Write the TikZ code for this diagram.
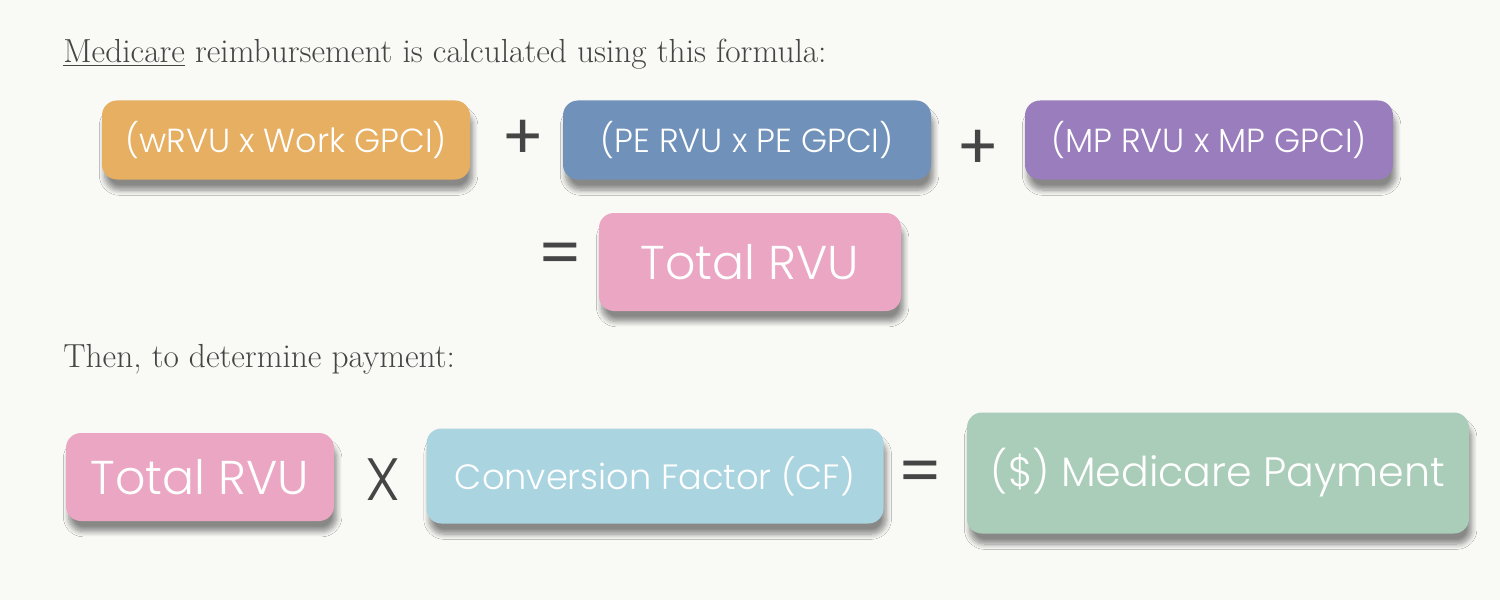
\documentclass[tikz,border=0pt]{standalone}
\usepackage{fontspec}
\usepackage{tikz}
\usetikzlibrary{shadows.blur}
\newfontfamily\boxfont{Poppins}[UprightFont={* Light}]
\newfontfamily\signfont{Poppins}

\definecolor{paper}{HTML}{F9F9F6}
\definecolor{ink}{HTML}{454545}
\definecolor{workcol}{HTML}{E6AF62}
\definecolor{pecol}{HTML}{6F91BA}
\definecolor{mpcol}{HTML}{9A7DBC}
\definecolor{rvucol}{HTML}{EAA6C2}
\definecolor{cfcol}{HTML}{AAD4E0}
\definecolor{paycol}{HTML}{AACDB9}

\tikzset{
  termbox/.style={rounded corners=0.3cm, text=white, inner sep=0pt,
    font=\boxfont\fontsize{19}{22}\selectfont,
    blur shadow={shadow xshift=1.5pt, shadow yshift=-6pt, shadow blur steps=8, shadow blur radius=3pt, shadow opacity=45}},
  sign/.style={text=ink, font=\signfont\fontsize{36}{40}\selectfont},
  caption/.style={text=ink, anchor=base west, inner sep=0pt, font=\fontsize{19}{22}\selectfont}
}

\begin{document}
\begin{tikzpicture}
		\fill[paper] (0,0) rectangle (30,12);
		\useasboundingbox (0,0) rectangle (30,12);
		% first line: the three weighted terms
		\node[caption] (intro) at (1.26,10.74) {\underline{Medicare} reimbursement is calculated using this formula:};
		\node[termbox, fill=workcol, minimum width=7.36cm, minimum height=1.58cm] (work) at (5.72,9.2) {(wRVU x Work GPCI)};
		\node[sign] (plus1) at (10.46,9.2) {+};
		\node[termbox, fill=pecol, minimum width=7.36cm, minimum height=1.58cm] (pe) at (14.94,9.2) {(PE RVU x PE GPCI)};
		\node[sign] (plus2) at (19.56,9.0) {+};
		\node[termbox, fill=mpcol, minimum width=7.36cm, minimum height=1.58cm] (mp) at (24.18,9.2) {(MP RVU x MP GPCI)};
		\node[sign] (eq1) at (11.2,6.82) {=};
		\node[termbox, fill=rvucol, minimum width=6.04cm, minimum height=1.96cm, font=\boxfont\fontsize{27}{30}\selectfont] (total) at (15.0,6.76) {Total RVU};
		% second line: the payment
		\node[caption] (then) at (1.26,4.66) {Then, to determine payment:};
		\node[termbox, fill=rvucol, minimum width=5.36cm, minimum height=1.76cm, font=\boxfont\fontsize{27}{30}\selectfont] (rvu) at (4.0,2.46) {Total RVU};
		\node[sign, font=\boxfont\fontsize{34}{36}\selectfont] (times) at (7.66,2.4) {X};
		\node[termbox, fill=cfcol, minimum width=9.14cm, minimum height=1.9cm, font=\boxfont\fontsize{20}{24}\selectfont] (cf) at (13.1,2.48) {Conversion Factor (CF)};
		\node[sign] (eq2) at (18.4,2.46) {=};
		\node[termbox, fill=paycol, minimum width=10.04cm, minimum height=2.42cm, font=\boxfont\fontsize{23.4}{27}\selectfont] (pay) at (24.36,2.54) {(\$) Medicare Payment};
	\end{tikzpicture}
\end{document}
